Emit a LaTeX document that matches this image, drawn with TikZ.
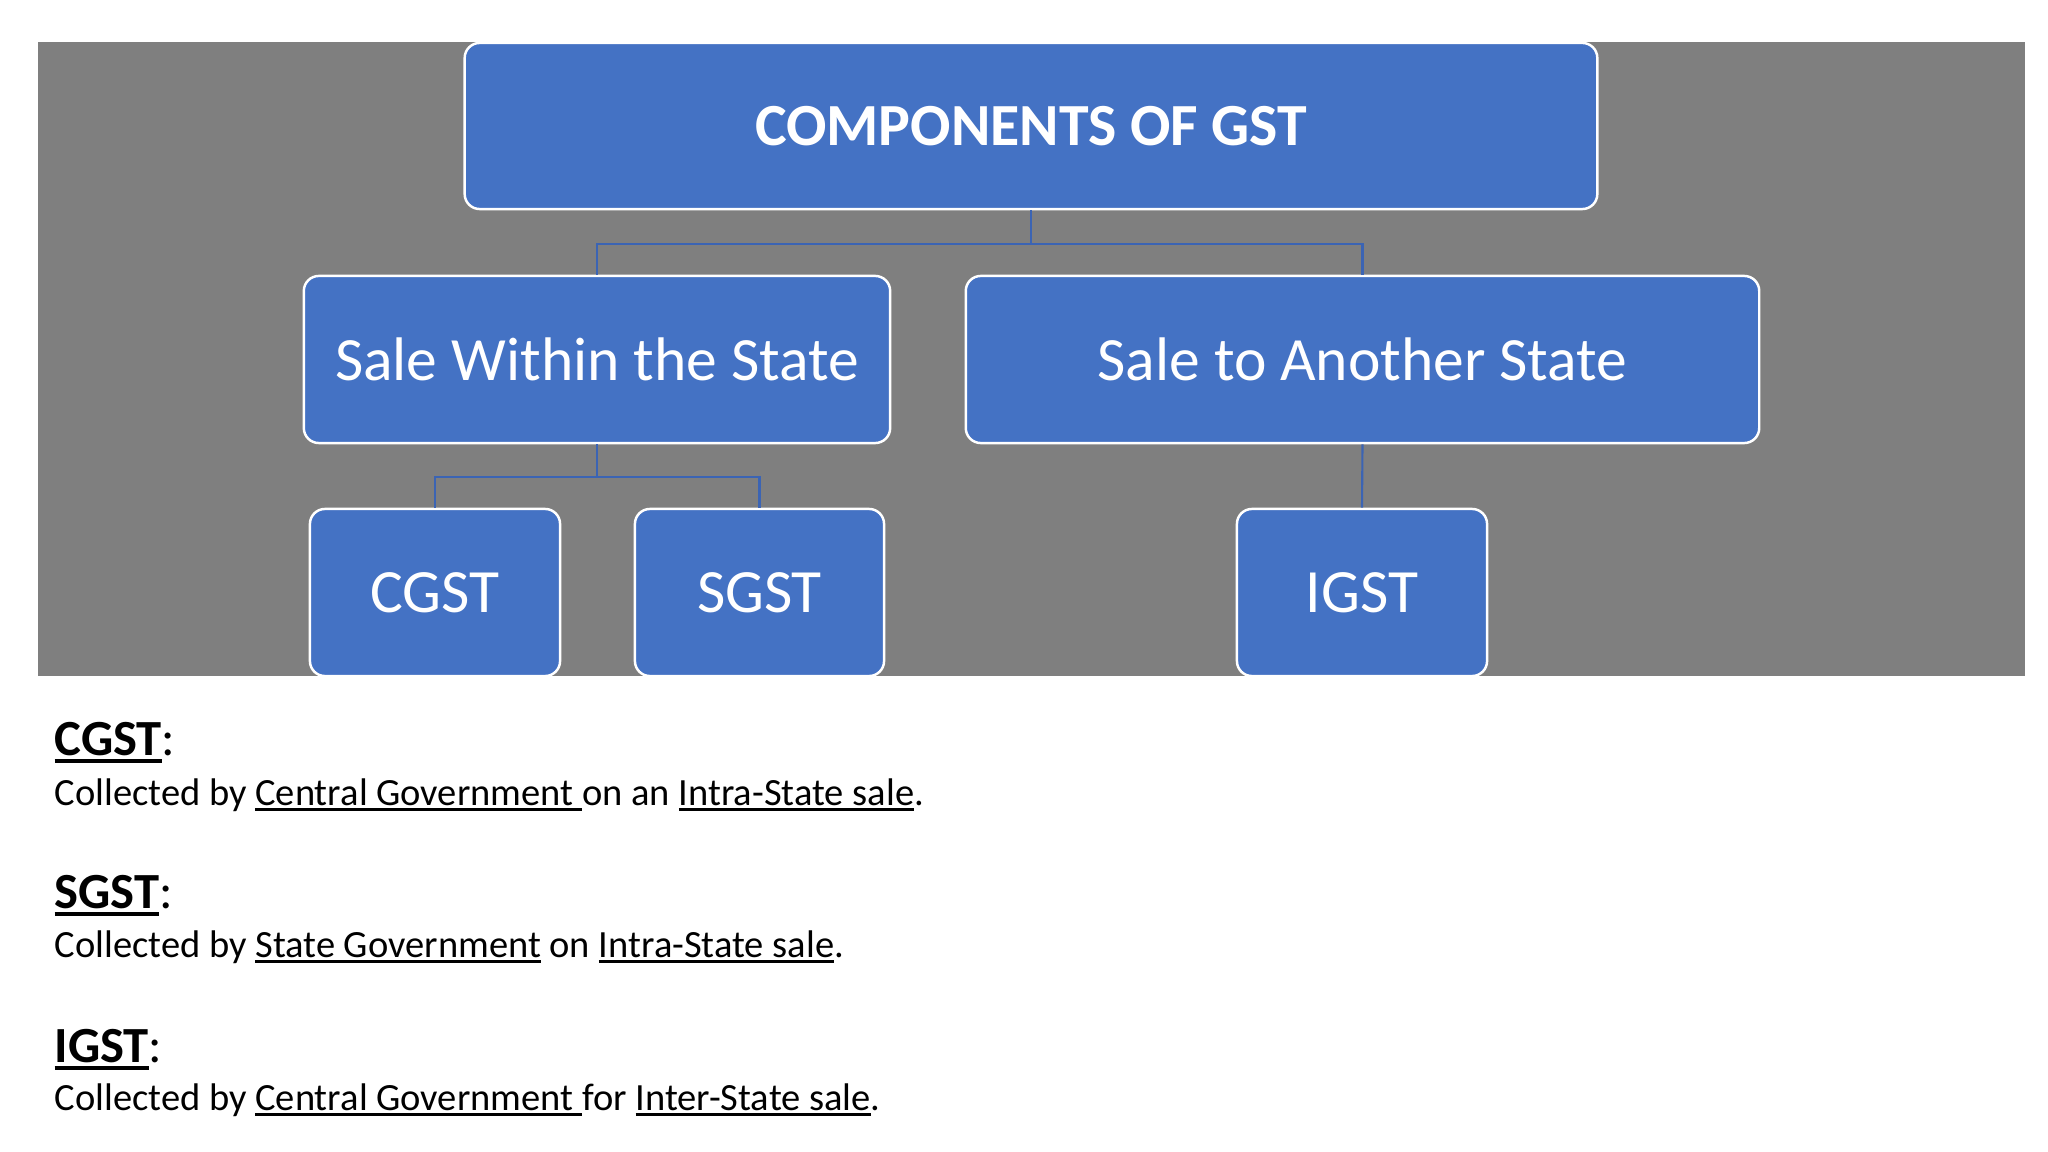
\documentclass[tikz,border=0pt]{standalone}
\usepackage{fontspec}
\setmainfont{Carlito}
\definecolor{boxblue}{HTML}{4472C4}
\definecolor{bggray}{HTML}{7F7F7F}
\definecolor{linkblue}{HTML}{3B64B4}
\newcommand{\ulbox}[3]{\leavevmode\setbox0=\hbox{#3}\rlap{\vrule height \dimexpr #1-#2\relax depth #2 width \wd0}\box0\relax}
\newcommand{\hul}[1]{\ulbox{1.15pt}{2.4pt}{#1}}
\newcommand{\bul}[1]{\ulbox{0.75pt}{1.6pt}{#1}}
\tikzset{
  gbox/.style={draw=white, line width=0.7pt, fill=boxblue, rounded corners=0.15cm,
    text=white, inner sep=0pt, anchor=center},
  link/.style={draw=linkblue, line width=0.6pt},
  toptext/.style={font=\fontsize{17.0pt}{20pt}\selectfont\bfseries},
  boxtext/.style={font=\fontsize{17.5pt}{21pt}\selectfont},
  headtext/.style={font=\fontsize{14.4pt}{17pt}\selectfont, anchor=base west, inner sep=0pt},
  bodytext/.style={font=\fontsize{10.95pt}{13pt}\selectfont, anchor=base west, inner sep=0pt}
}
\begin{document}
\begin{tikzpicture}[x=0.01cm,y=-0.01cm]
\useasboundingbox (0,0) rectangle (2048,1152);
\fill[white] (0,0) rectangle (2048,1152);
\fill[bggray] (38,42) rectangle (2025,676);

\node[gbox, toptext, minimum width=11.32cm, minimum height=1.66cm] (top) at (1031,126) {COMPONENTS OF GST};
\node[gbox, boxtext, minimum width=5.86cm, minimum height=1.67cm] (within) at (597,359.5) {Sale Within the State};
\node[gbox, boxtext, minimum width=7.93cm, minimum height=1.67cm] (another) at (1362.5,359.5) {Sale to Another State};
\node[gbox, boxtext, minimum width=2.50cm, minimum height=1.67cm] (cgst) at (435,592.5) {CGST};
\node[gbox, boxtext, minimum width=2.49cm, minimum height=1.67cm] (sgst) at (759.5,592.5) {SGST};
\node[gbox, boxtext, minimum width=2.50cm, minimum height=1.67cm] (igst) at (1362,592.5) {IGST};

\draw[link] (top.south) -- ++(0,34) coordinate (j1) -| (within.north);
\draw[link] (j1) -| (another.north);
\draw[link] (within.south) -- ++(0,33) coordinate (j2) -| (cgst.north);
\draw[link] (j2) -| (sgst.north);
\draw[link] (another.south) -- (igst.north);

\node[headtext] (h1) at (54,755) {\hul{\bfseries CGST}:};
\node[bodytext] (b1) at (54,805) {Collected by \bul{Central Government\ }on an \bul{Intra-State sale}.};
\node[headtext] (h2) at (54,908) {\hul{\bfseries SGST}:};
\node[bodytext] (b2) at (54,957) {Collected by \bul{State Government} on \bul{Intra-State sale}.};
\node[headtext] (h3) at (54,1062) {\hul{\bfseries IGST}:};
\node[bodytext] (b3) at (54,1110) {Collected by \bul{Central Government\ }for \bul{Inter-State sale}.};
\end{tikzpicture}
\end{document}
